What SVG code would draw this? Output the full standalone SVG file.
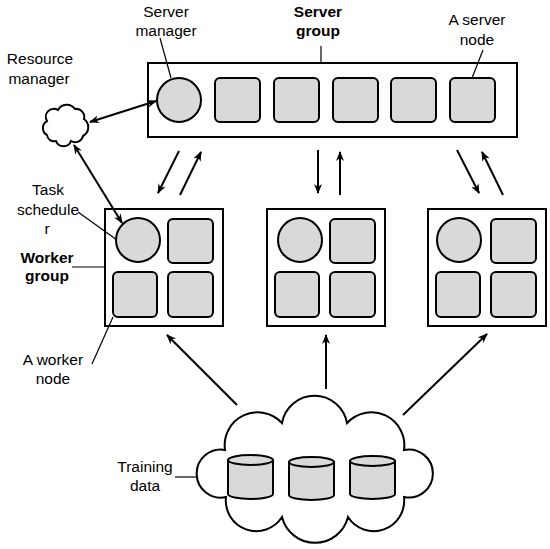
<svg xmlns="http://www.w3.org/2000/svg" width="550" height="549" viewBox="0 0 550 549">
<defs>
<style>
.t{font-family:"Liberation Sans",Arial,sans-serif;font-size:15.5px;fill:#000;text-anchor:middle}
.b{font-weight:bold}
.box{fill:#fff;stroke:#000;stroke-width:2}
.nd{fill:#d9d9d9;stroke:#000;stroke-width:2}
.ar{stroke:#000;stroke-width:2;fill:none}
.ld{stroke:#000;stroke-width:1.2;fill:none}
.cl{fill:#fff;stroke:#000;stroke-width:2}
</style>
<marker id="ah" viewBox="0 0 10 8" refX="9" refY="4" markerWidth="10" markerHeight="8" orient="auto-start-reverse" markerUnits="userSpaceOnUse"><path d="M0,0 L10,4 L0,8 L3,4 z" fill="#000"/></marker>
</defs>
<rect width="550" height="549" fill="#fff"/>

<g id="resource-manager">
<path class="cl" d="M47,121 A8,8 0 0,1 58,110 A10,10 0 0,1 75,109 A8,8 0 0,1 84,119 A10,10 0 0,1 83,136 A8,8 0 0,1 71,141 A8,8 0 0,1 56,141 A7,7 0 0,1 47,135 A8,8 0 0,1 47,121 Z"/>
<text class="t" x="40" y="64">Resource</text>
<text class="t" x="39" y="84">manager</text>
</g>

<g id="server-group">
<rect class="box" x="148" y="63" width="369" height="74"/>
<text class="t b" x="318" y="17">Server</text>
<text class="t b" x="318" y="36">group</text>
<line class="ld" x1="321" y1="46" x2="321" y2="63"/>
</g>

<g id="server-manager">
<circle class="nd" cx="179" cy="100" r="22"/>
<text class="t" x="166" y="17">Server</text>
<text class="t" x="166" y="36">manager</text>
<line class="ld" x1="160" y1="38" x2="171" y2="78"/>
</g>

<g id="server-nodes">
<rect class="nd" x="215" y="78" width="45" height="44" rx="5"/>
<rect class="nd" x="274" y="78" width="45" height="44" rx="5"/>
<rect class="nd" x="333" y="78" width="45" height="44" rx="5"/>
<rect class="nd" x="391" y="78" width="45" height="44" rx="5"/>
<rect class="nd" x="450" y="78" width="45" height="44" rx="5"/>
<text class="t" x="477" y="25">A server</text>
<text class="t" x="477" y="45">node</text>
<line class="ld" x1="483" y1="50" x2="472" y2="78"/>
</g>

<g id="worker-group-1">
<rect class="box" x="105" y="209" width="118" height="117"/>
<circle class="nd" cx="138" cy="240" r="22"/>
<rect class="nd" x="168" y="219" width="45" height="44" rx="5"/>
<rect class="nd" x="113" y="272" width="44" height="45" rx="5"/>
<rect class="nd" x="168" y="272" width="45" height="45" rx="5"/>
<text class="t" x="48" y="195">Task</text>
<text class="t" x="48" y="215">schedule</text>
<text class="t" x="47" y="234">r</text>
<line class="ld" x1="78" y1="212" x2="117" y2="240"/>
<text class="t b" x="47" y="263">Worker</text>
<text class="t b" x="47" y="281">group</text>
<line class="ld" x1="72" y1="267" x2="105" y2="267"/>
<text class="t" x="53" y="365">A worker</text>
<text class="t" x="53" y="384">node</text>
<line class="ld" x1="92" y1="364" x2="113" y2="317"/>
</g>

<g id="worker-group-2">
<rect class="box" x="267" y="209" width="118" height="117"/>
<circle class="nd" cx="300" cy="240" r="22"/>
<rect class="nd" x="330" y="219" width="45" height="44" rx="5"/>
<rect class="nd" x="275" y="272" width="44" height="45" rx="5"/>
<rect class="nd" x="330" y="272" width="45" height="45" rx="5"/>
</g>

<g id="worker-group-3">
<rect class="box" x="428" y="209" width="118" height="117"/>
<circle class="nd" cx="459" cy="240" r="22"/>
<rect class="nd" x="491" y="219" width="45" height="44" rx="5"/>
<rect class="nd" x="436" y="272" width="44" height="45" rx="5"/>
<rect class="nd" x="491" y="272" width="45" height="45" rx="5"/>
</g>

<g id="training-data">
<path class="cl" d="M225,450 A33,33 0 0,1 282,423 A33,33 0 0,1 347,423 A33,33 0 0,1 404,450 A24,24 0 1,1 404,497 A30.5,30.5 0 0,1 348,517 A34,34 0 0,1 282,517 A30.5,30.5 0 0,1 226,497 A24,24 0 1,1 225,450 Z"/>
<path class="nd" d="M228,460 V494 A22.5,5 0 0,0 273,494 V460 Z"/>
<ellipse class="nd" cx="250.5" cy="460" rx="22.5" ry="5"/>
<path class="nd" d="M289,462 V495 A22.5,5 0 0,0 334,495 V462 Z"/>
<ellipse class="nd" cx="311.5" cy="462" rx="22.5" ry="5"/>
<path class="nd" d="M350,461 V494 A22.5,5 0 0,0 395,494 V461 Z"/>
<ellipse class="nd" cx="372.5" cy="461" rx="22.5" ry="5"/>
<text class="t" x="145" y="472">Training</text>
<text class="t" x="145" y="491">data</text>
<line class="ld" x1="175" y1="477" x2="196" y2="477"/>
</g>

<g id="connectors">
<line class="ar" x1="90" y1="122" x2="156" y2="101" marker-start="url(#ah)" marker-end="url(#ah)"/>
<line class="ar" x1="74" y1="145" x2="122" y2="223" marker-start="url(#ah)" marker-end="url(#ah)"/>
<line class="ar" x1="179" y1="151" x2="158" y2="193" marker-end="url(#ah)"/>
<line class="ar" x1="180" y1="195" x2="201" y2="152" marker-end="url(#ah)"/>
<line class="ar" x1="318" y1="150" x2="318" y2="193" marker-end="url(#ah)"/>
<line class="ar" x1="340" y1="195" x2="340" y2="152" marker-end="url(#ah)"/>
<line class="ar" x1="457" y1="150" x2="479" y2="193" marker-end="url(#ah)"/>
<line class="ar" x1="503" y1="195" x2="482" y2="152" marker-end="url(#ah)"/>
<line class="ar" x1="237" y1="405" x2="167" y2="335" marker-end="url(#ah)"/>
<line class="ar" x1="326" y1="389" x2="326" y2="335" marker-end="url(#ah)"/>
<line class="ar" x1="403" y1="415" x2="487" y2="334" marker-end="url(#ah)"/>
</g>
</svg>
